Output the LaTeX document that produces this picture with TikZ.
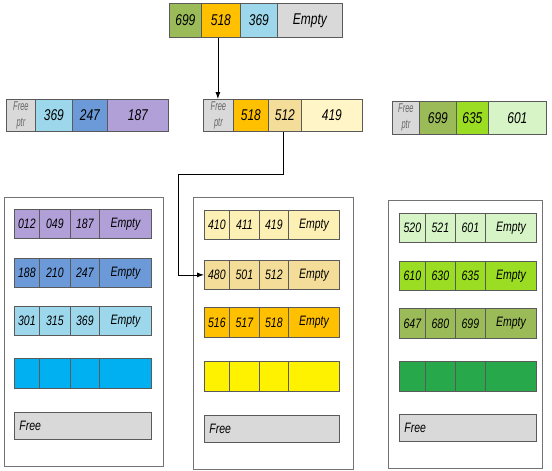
\documentclass[tikz,border=0pt]{standalone}
\usepackage{fontspec}
\setmainfont{Liberation Sans}
\usetikzlibrary{arrows.meta}
\definecolor{olive}{HTML}{9BBB59}
\definecolor{orng}{HTML}{FFC000}
\definecolor{lblue}{HTML}{9DD7EC}
\definecolor{egrey}{HTML}{D9D9D9}
\definecolor{bluec}{HTML}{6C9AD8}
\definecolor{purp}{HTML}{B1A0D8}
\definecolor{tan}{HTML}{F4DD98}
\definecolor{paley}{HTML}{FFF5C6}
\definecolor{lyel}{HTML}{FDF0B4}
\definecolor{yelw}{HTML}{FFF200}
\definecolor{lime}{HTML}{9BDD22}
\definecolor{paleg}{HTML}{D6F4C6}
\definecolor{dkgrn}{HTML}{27A84A}
\definecolor{cyanc}{HTML}{00B0F0}
\definecolor{edge}{HTML}{5A5A5A}
\newcommand\tx[1]{\scalebox{1}[1.3]{#1}}
\newcommand\cel[7]{\node[cell,fill=#6,minimum width=#4pt,minimum height=#5pt] (#1) at (#2,#3) {\tx{#7}};}
\newcommand\fp{\tx{\parbox{22pt}{\centering\fontsize{7.5}{8.5}\selectfont\color{black!60}Free\\[1pt]ptr}}}
\tikzset{
  cellx/.style={},
  cell/.style={draw=edge,line width=0.8pt,anchor=north west,inner sep=0pt,
    font=\itshape\fontsize{10.5}{12}\selectfont,cellx},
  big/.style={font=\itshape\fontsize{12}{13}\selectfont},
  freebox/.style={draw=edge,line width=0.8pt,anchor=north west,inner xsep=5pt,inner ysep=0pt,
    fill=egrey,minimum height=27pt,align=left,font=\itshape\fontsize{10.5}{12}\selectfont},
  container/.style={draw=black!55,line width=0.9pt,anchor=north west,inner sep=0pt,fill=white},
  conn/.style={draw=black,line width=0.8pt,-{Latex[length=7pt,width=5pt]}}
}
\begin{document}
\begin{tikzpicture}[x=1pt,y=-1pt]
\useasboundingbox[fill=white] (0,0) rectangle (552,471);
\begin{scope}[cellx/.style={big}]
% root
\cel{r699}{169}{3}{32}{34}{olive}{699}
\cel{r518}{201}{3}{39}{34}{orng}{518}
\cel{r369}{240}{3}{37}{34}{lblue}{369}
\cel{rE}{277}{3}{65}{34}{egrey}{Empty}
% level 2 left
\cel{lF}{6}{99}{29}{32}{egrey}{\fp}
\cel{l369}{35}{99}{37}{32}{lblue}{369}
\cel{l247}{72}{99}{35}{32}{bluec}{247}
\cel{l187}{107}{99}{61}{32}{purp}{187}
% level 2 middle
\cel{mF}{203}{99}{30}{32}{egrey}{\fp}
\cel{m518}{233}{99}{35}{32}{orng}{518}
\cel{m512}{268}{99}{33}{32}{tan}{512}
\cel{m419}{301}{99}{61}{32}{paley}{419}
% level 2 right
\cel{gF}{392}{101}{27}{33}{egrey}{\fp}
\cel{g699}{419}{101}{37}{33}{olive}{699}
\cel{g635}{456}{101}{32}{33}{lime}{635}
\cel{g601}{488}{101}{58}{33}{paleg}{601}
\end{scope}
% containers
\node[container,minimum width=159pt,minimum height=269pt] (cL) at (4,197) {};
\node[container,minimum width=160pt,minimum height=272pt] (cM) at (193,197) {};
\node[container,minimum width=154pt,minimum height=268pt] (cR) at (388,200) {};
% left container rows
\cel{a1}{14}{209}{25}{29}{purp}{012}
\cel{a2}{39}{209}{31}{29}{purp}{049}
\cel{a3}{70}{209}{29}{29}{purp}{187}
\cel{a4}{99}{209}{52}{29}{purp}{Empty}
\cel{b1}{14}{258}{25}{29}{bluec}{188}
\cel{b2}{39}{258}{31}{29}{bluec}{210}
\cel{b3}{70}{258}{29}{29}{bluec}{247}
\cel{b4}{99}{258}{52}{29}{bluec}{Empty}
\cel{c1}{14}{306}{25}{29}{lblue}{301}
\cel{c2}{39}{306}{31}{29}{lblue}{315}
\cel{c3}{70}{306}{29}{29}{lblue}{369}
\cel{c4}{99}{306}{52}{29}{lblue}{Empty}
\cel{d1}{14}{358}{25}{30}{cyanc}{}
\cel{d2}{39}{358}{31}{30}{cyanc}{}
\cel{d3}{70}{358}{29}{30}{cyanc}{}
\cel{d4}{99}{358}{52}{30}{cyanc}{}
\node[freebox,text width=127pt] (fL) at (14,412) {\tx{Free}};
% middle container rows
\cel{e1}{204}{210}{25}{29}{lyel}{410}
\cel{e2}{229}{210}{30}{29}{lyel}{411}
\cel{e3}{259}{210}{29}{29}{lyel}{419}
\cel{e4}{288}{210}{51}{29}{lyel}{Empty}
\cel{f1}{204}{260}{25}{29}{tan}{480}
\cel{f2}{229}{260}{30}{29}{tan}{501}
\cel{f3}{259}{260}{29}{29}{tan}{512}
\cel{f4}{288}{260}{51}{29}{tan}{Empty}
\cel{h1}{204}{307}{25}{30}{orng}{516}
\cel{h2}{229}{307}{30}{30}{orng}{517}
\cel{h3}{259}{307}{29}{30}{orng}{518}
\cel{h4}{288}{307}{51}{30}{orng}{Empty}
\cel{i1}{204}{361}{25}{30}{yelw}{}
\cel{i2}{229}{361}{30}{30}{yelw}{}
\cel{i3}{259}{361}{29}{30}{yelw}{}
\cel{i4}{288}{361}{51}{30}{yelw}{}
\node[freebox,text width=125pt] (fM) at (204,415) {\tx{Free}};
% right container rows
\cel{j1}{399}{213}{26}{29}{paleg}{520}
\cel{j2}{425}{213}{30}{29}{paleg}{521}
\cel{j3}{455}{213}{30}{29}{paleg}{601}
\cel{j4}{485}{213}{51}{29}{paleg}{Empty}
\cel{k1}{399}{261}{26}{29}{lime}{610}
\cel{k2}{425}{261}{30}{29}{lime}{630}
\cel{k3}{455}{261}{30}{29}{lime}{635}
\cel{k4}{485}{261}{51}{29}{lime}{Empty}
\cel{n1}{399}{308}{26}{30}{olive}{647}
\cel{n2}{425}{308}{30}{30}{olive}{680}
\cel{n3}{455}{308}{30}{30}{olive}{699}
\cel{n4}{485}{308}{51}{30}{olive}{Empty}
\cel{o1}{399}{361}{26}{30}{dkgrn}{}
\cel{o2}{425}{361}{30}{30}{dkgrn}{}
\cel{o3}{455}{361}{30}{30}{dkgrn}{}
\cel{o4}{485}{361}{51}{30}{dkgrn}{}
\node[freebox,text width=127pt] (fR) at (399,414) {\tx{Free}};
% connectors
\draw[conn] ([xshift=-3pt]r518.south) -- ([xshift=-3pt]r518.south |- mF.north);
\coordinate (bend) at (178,174);
\draw[conn] ([xshift=-2pt]m512.south) |- (bend) |- (f1.west);
\end{tikzpicture}
\end{document}
